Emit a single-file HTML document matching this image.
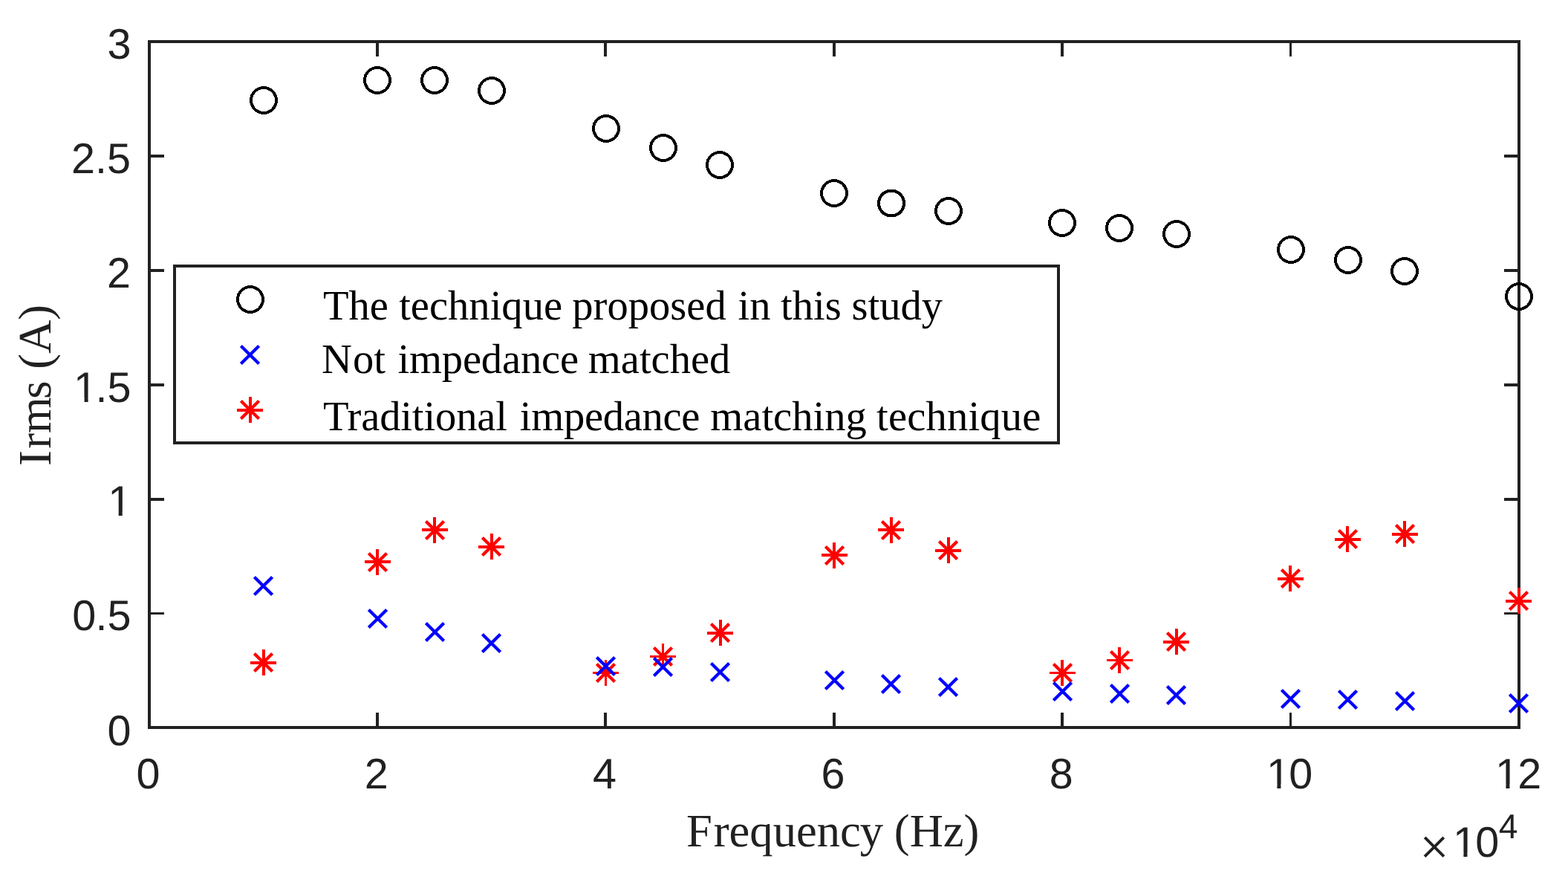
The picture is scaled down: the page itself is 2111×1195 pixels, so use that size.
<!DOCTYPE html>
<html lang="en"><head><meta charset="utf-8"><title>Irms versus frequency</title>
<style>html,body{margin:0;padding:0;background:#fff}body{width:2111px;height:1195px;overflow:hidden}svg{display:block}text{white-space:pre;text-rendering:geometricPrecision}</style>
</head><body>
<svg width="2111" height="1195" viewBox="0 0 2111 1195">
<defs><clipPath id="c1"><path clip-rule="evenodd" d="M-20 -80H400V40H-20ZM2.88 -5.5H14.46V4H2.88ZM19.54 -5.5H30.48V4H19.54Z"/></clipPath></defs>
<rect x="0" y="0" width="2111" height="1195" fill="#fff"/>
<g fill="none" stroke="#212121" stroke-width="4" shape-rendering="crispEdges">
<rect x="201" y="56" width="1844" height="923"/>
<path d="M508 979V959M508 56V76M815 979V959M815 56V76M1123 979V959M1123 56V76M1430 979V959M1430 56V76M201 672H221M2045 672H2025M201 518H221M2045 518H2025M201 364H221M2045 364H2025M201 210H221M2045 210H2025"/>
<path stroke-width="3" d="M1737.5 979V959M1737.5 56V76M201 825.5H221M2045 825.5H2025"/>
</g>
<g font-family="'Liberation Sans', Arial, Helvetica, sans-serif" font-size="57.5" fill="#212121">
<text x="144.47" y="1003">0</text>
<text x="97.32 128.5" y="848">0.5</text>
<text transform="translate(145.2 694)" clip-path="url(#c1)">1</text>
<text transform="translate(99.1 541)" clip-path="url(#c1)" x="0 29.5">1.5</text>
<text x="144.07" y="387">2</text>
<text x="96.12" y="233">2.5</text>
<text x="144.47" y="79">3</text>
<text x="183.41" y="1061">0</text>
<text x="490.74" y="1061">2</text>
<text x="798.08" y="1061">4</text>
<text x="1105.41" y="1061">6</text>
<text x="1412.74" y="1061">8</text>
<text transform="translate(1704.89 1061)" clip-path="url(#c1)" x="0 30.4">10</text>
<text transform="translate(2012.92 1061)" clip-path="url(#c1)" x="0 30.4">12</text>
<text x="1911.5" y="1162" font-size="66.8" stroke="#fff" stroke-width="0.8">×</text>
<text transform="translate(1955.92 1153)" clip-path="url(#c1)" x="0 30.3">10</text>
<text x="2017.64" y="1128" font-size="46.3">4</text>
</g>
<g font-family="'Liberation Serif', 'Times New Roman', Times, serif" font-size="62.6" fill="#212121">
<text x="923.9" y="1139" dx="0 2 0 0 0 0 0 0 -1.2 -0.8">Frequency (Hz)</text>
<text transform="translate(67.9 627.1) rotate(-90)" dx="0 2.4 0 -2.4">Irms (A)</text>
</g>
<g fill="none" stroke="#000" stroke-width="4" shape-rendering="crispEdges"><circle cx="355" cy="135" r="17"/><circle cx="508" cy="108" r="17"/><circle cx="585" cy="108" r="17"/><circle cx="662" cy="122" r="17"/><circle cx="816" cy="173" r="17"/><circle cx="893" cy="199" r="17"/><circle cx="969" cy="222" r="17"/><circle cx="1123" cy="260" r="17"/><circle cx="1200" cy="273.5" r="17"/><circle cx="1277" cy="284" r="17"/><circle cx="1430" cy="300" r="17"/><circle cx="1507" cy="307" r="17"/><circle cx="1584" cy="315" r="17"/><circle cx="1738" cy="336" r="17"/><circle cx="1815" cy="350" r="17"/><circle cx="1891" cy="365" r="17"/><circle cx="2045" cy="399" r="17"/></g>
<path fill="#f00" shape-rendering="crispEdges" d="M353 874h4v35h-4zM337 890h35v4h-35zM506 739h4v35h-4zM491 754h35v4h-35zM583 696h4v35h-4zM568 711h35v4h-35zM660 718h4v35h-4zM644 734h35v4h-35zM814 888h3v35h-3zM798 904h35v3h-35zM891 866h3v35h-3zM875 882h35v3h-35zM968 834h4v35h-4zM952 850h35v4h-35zM1121 730h4v35h-4zM1106 745h35v4h-35zM1198 696h4v35h-4zM1182 711h35v4h-35zM1275 723h4v35h-4zM1259 739h35v4h-35zM1428 888h4v35h-4zM1413 904h35v3h-35zM1505 871h4v35h-4zM1490 887h35v3h-35zM1582 846h4v35h-4zM1566 862h35v4h-35zM1735 761h4v35h-4zM1720 777h35v4h-35zM1812 708h4v35h-4zM1797 724h35v4h-35zM1889 701h4v35h-4zM1874 717h35v4h-35zM2043 791h4v35h-4zM2027 807h35v4h-35z"/>
<path fill="none" stroke="#f00" stroke-width="4.3" d="M342.4 879.4l24.2 24.2m0 -24.2l-24.2 24.2M496.4 744.4l24.2 24.2m0 -24.2l-24.2 24.2M573.4 701.4l24.2 24.2m0 -24.2l-24.2 24.2M649.4 723.4l24.2 24.2m0 -24.2l-24.2 24.2M803.4 893.4l24.2 24.2m0 -24.2l-24.2 24.2M880.4 871.4l24.2 24.2m0 -24.2l-24.2 24.2M957.4 839.4l24.2 24.2m0 -24.2l-24.2 24.2M1111.4 735.4l24.2 24.2m0 -24.2l-24.2 24.2M1187.4 701.4l24.2 24.2m0 -24.2l-24.2 24.2M1264.4 728.4l24.2 24.2m0 -24.2l-24.2 24.2M1418.4 893.4l24.2 24.2m0 -24.2l-24.2 24.2M1495.4 876.4l24.2 24.2m0 -24.2l-24.2 24.2M1571.4 851.4l24.2 24.2m0 -24.2l-24.2 24.2M1725.4 766.4l24.2 24.2m0 -24.2l-24.2 24.2M1802.4 713.4l24.2 24.2m0 -24.2l-24.2 24.2M1879.4 706.4l24.2 24.2m0 -24.2l-24.2 24.2M2032.4 796.4l24.2 24.2m0 -24.2l-24.2 24.2"/>
<path fill="none" stroke="#00f" stroke-width="4.3" d="M342.4 776.4l24.2 24.2m0 -24.2l-24.2 24.2M496.4 820.4l24.2 24.2m0 -24.2l-24.2 24.2M573.4 838.4l24.2 24.2m0 -24.2l-24.2 24.2M649.4 853.4l24.2 24.2m0 -24.2l-24.2 24.2M803.4 884.4l24.2 24.2m0 -24.2l-24.2 24.2M880.4 885.4l24.2 24.2m0 -24.2l-24.2 24.2M957.4 892.4l24.2 24.2m0 -24.2l-24.2 24.2M1111.4 903.4l24.2 24.2m0 -24.2l-24.2 24.2M1187.4 908.4l24.2 24.2m0 -24.2l-24.2 24.2M1264.4 912.4l24.2 24.2m0 -24.2l-24.2 24.2M1418.4 918.4l24.2 24.2m0 -24.2l-24.2 24.2M1495.4 921.4l24.2 24.2m0 -24.2l-24.2 24.2M1571.4 923.4l24.2 24.2m0 -24.2l-24.2 24.2M1725.4 928.4l24.2 24.2m0 -24.2l-24.2 24.2M1802.4 929.4l24.2 24.2m0 -24.2l-24.2 24.2M1879.4 931.4l24.2 24.2m0 -24.2l-24.2 24.2M2032.4 934.4l24.2 24.2m0 -24.2l-24.2 24.2"/>
<rect x="235" y="358" width="1190" height="238" fill="#fff" stroke="#212121" stroke-width="4" shape-rendering="crispEdges"/>
<g fill="none" stroke="#000" stroke-width="4" shape-rendering="crispEdges"><circle cx="337" cy="403" r="17"/></g>
<path fill="none" stroke="#00f" stroke-width="4.3" d="M324.4 465.4l24.2 24.2m0 -24.2l-24.2 24.2"/>
<path fill="#f00" shape-rendering="crispEdges" d="M335 534h4v35h-4zM319 550h35v4h-35z"/>
<path fill="none" stroke="#f00" stroke-width="4.3" d="M324.4 539.4l24.2 24.2m0 -24.2l-24.2 24.2"/>
<g font-family="'Liberation Serif', 'Times New Roman', Times, serif" font-size="56.55" fill="#000">
<text x="434.9" y="430" dx="0 0 0 0 0.15 0 0 0 0 0 0 0 0 0 -0.84 0 0 0 0 0 0 0 0 1.76 0 0 -0.63 0 0 0 0 -0.44">The technique proposed in this study</text>
<text x="433" y="502" dx="0 1.06 0 0 2.39 -0.17 -0.17 -0.17 -0.17 -0.17 -0.17 -0.17 -0.17 -0.17 -1.22">Not impedance matched</text>
<text x="435.1" y="579" dx="0 -0.15 -0.15 -0.15 -0.15 -0.15 -0.15 -0.15 -0.15 -0.15 -0.15 -0.15 2.88 -0.3 -0.3 -0.3 -0.3 -0.3 -0.3 -0.3 -0.3 -0.3 0.05 0 0 0 0 0 0 0 0 -0.85 0.18 0.18 0.18 0.18 0.18 0.18 0.18 0.18">Traditional impedance matching technique</text>
</g>
</svg>
</body></html>
